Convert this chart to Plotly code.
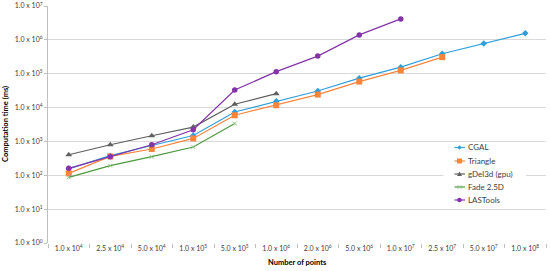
import plotly.graph_objects as go

categories = ["1.0 x 10<sup>4</sup>", "2.5 x 10<sup>4</sup>", "5.0 x 10<sup>4</sup>", "1.0 x 10<sup>5</sup>",
              "5.0 x 10<sup>5</sup>", "1.0 x 10<sup>6</sup>", "2.0 x 10<sup>6</sup>", "5.0 x 10<sup>6</sup>",
              "1.0 x 10<sup>7</sup>", "2.5 x 10<sup>7</sup>", "5.0 x 10<sup>7</sup>", "1.0 x 10<sup>8</sup>"]

cgal = [155, 380, 760, 1500, 7400, 15300, 30800, 74000, 156000, 388000, 778000, 1560000]
triangle = [114, 361, 597, 1225, 5930, 11700, 24200, 58500, 125000, 308000]
gdel3d = [405, 800, 1470, 2650, 12500, 25800]
fade = [87, 192, 354, 683, 3380]
lastools = [160, 355, 800, 2210, 33000, 115000, 331000, 1400000, 4160000]

series_names = ["CGAL", "Triangle", "gDel3d (gpu)", "Fade 2.5D", "LASTools"]
series_values = [cgal, triangle, gdel3d, fade, lastools]
series_colors = ["#2E9FDA", "#F7853A", "#5F5F5F", "#4C9A3E", "#8433A8"]
series_symbols = ["diamond", "square", "triangle-up", "x-thin", "circle"]
series_sizes = [5, 6, 6, 4, 5.5]

ytickvals = [1, 10, 100, 1000, 10000, 100000, 1000000, 10000000]
yticktext = ["1.0 x 10<sup>%d</sup>" % i for i in range(8)]

FONT = "Lato"
W, H = 550, 271
ML, MR, MT, MB = 48, 4, 6, 28
PW, PH = W - ML - MR, H - MT - MB


def px(xp):
    return (xp - ML) / PW


def py(yp):
    return (H - MB - yp) / PH


fig = go.Figure()
for name, vals, color, sym, size in zip(series_names, series_values, series_colors,
                                        series_symbols, series_sizes):
    mline = dict(width=1, color="#8BC37F") if sym == "x-thin" else dict(width=0)
    fig.add_trace(go.Scatter(
        x=categories[:len(vals)], y=vals, name=name, mode="lines+markers",
        line=dict(color=color, width=1.2),
        marker=dict(symbol=sym, size=size, color=color, line=mline),
        showlegend=False,
    ))

# custom compact legend (Excel-like spacing)
shapes = [dict(type="rect", xref="paper", yref="paper", layer="above",
               x0=px(443.5), x1=px(526), y0=py(142.5), y1=py(206),
               fillcolor="white", line=dict(width=0))]
annotations = []
row_y = [147.5, 161.0, 174.0, 187.0, 200.0]
lx0, lx1, mx = 454.5, 465, 459.5
for name, color, sym, yy in zip(series_names, series_colors, series_symbols, row_y):
    shapes.append(dict(type="line", xref="paper", yref="paper", layer="above",
                       x0=px(lx0), x1=px(lx1), y0=py(yy), y1=py(yy),
                       line=dict(color=color, width=1.2)))
    s = 2.2
    if sym == "diamond":
        path = "M %f %f L %f %f L %f %f L %f %f Z" % (px(mx), py(yy - s), px(mx + s), py(yy),
                                                      px(mx), py(yy + s), px(mx - s), py(yy))
        shapes.append(dict(type="path", xref="paper", yref="paper", layer="above", path=path,
                           fillcolor=color, line=dict(width=0)))
    elif sym == "square":
        shapes.append(dict(type="rect", xref="paper", yref="paper", layer="above",
                           x0=px(mx - 2.5), x1=px(mx + 2.5), y0=py(yy - 2.5), y1=py(yy + 2.5),
                           fillcolor=color, line=dict(width=0)))
    elif sym == "triangle-up":
        path = "M %f %f L %f %f L %f %f Z" % (px(mx), py(yy - 2.5), px(mx + 2.5), py(yy + 2),
                                              px(mx - 2.5), py(yy + 2))
        shapes.append(dict(type="path", xref="paper", yref="paper", layer="above", path=path,
                           fillcolor=color, line=dict(width=0)))
    elif sym == "x-thin":
        for a, b in [((-1.8, -1.8), (1.8, 1.8)), ((-1.8, 1.8), (1.8, -1.8))]:
            shapes.append(dict(type="line", xref="paper", yref="paper", layer="above",
                               x0=px(mx + a[0]), y0=py(yy + a[1]), x1=px(mx + b[0]), y1=py(yy + b[1]),
                               line=dict(color="#8BC37F", width=1)))
    else:
        shapes.append(dict(type="circle", xref="paper", yref="paper", layer="above",
                           x0=px(mx - 2.3), x1=px(mx + 2.3), y0=py(yy - 2.3), y1=py(yy + 2.3),
                           fillcolor=color, line=dict(width=0)))
    annotations.append(dict(text=name, xref="paper", yref="paper", x=px(466), y=py(yy),
                            xanchor="left", yanchor="middle", showarrow=False,
                            font=dict(family=FONT, size=8, color="#404040")))

annotations += [
    dict(text="<b>Computation time (ms)</b>", xref="paper", yref="paper",
         x=px(5.5), y=0.5, textangle=-90, showarrow=False, xanchor="center", yanchor="middle",
         font=dict(family=FONT, size=7.5, color="#000000")),
    dict(text="<b>Number of points</b>", xref="paper", yref="paper",
         x=0.5, y=py(262), yanchor="middle", showarrow=False,
         font=dict(family=FONT, size=7.5, color="#000000")),
]

fig.update_layout(
    width=W, height=H,
    margin=dict(l=ML, r=MR, t=MT, b=MB, autoexpand=False),
    paper_bgcolor="white", plot_bgcolor="white",
    font=dict(family=FONT, size=7, color="#404040"),
    showlegend=False,
    xaxis=dict(type="category", categoryorder="array", categoryarray=categories,
               tickson="boundaries", ticks="outside", ticklen=4, tickcolor="#bfbfbf",
               showgrid=False, showline=False, zeroline=False, automargin=False,
               range=[-0.5, 11.5], tickfont=dict(size=7)),
    yaxis=dict(type="log", range=[0, 7], tickvals=ytickvals, ticktext=yticktext,
               showgrid=True, gridcolor="#d9d9d9", gridwidth=1, automargin=False,
               showline=True, linecolor="#bfbfbf", ticks="outside", ticklen=3,
               tickcolor="#bfbfbf", zeroline=False, tickfont=dict(size=7)),
    shapes=shapes,
    annotations=annotations,
)

fig.write_html("out.html", config={"displayModeBar": False},
               post_script="document.body.style.margin='0px';document.body.style.overflow='hidden';")
